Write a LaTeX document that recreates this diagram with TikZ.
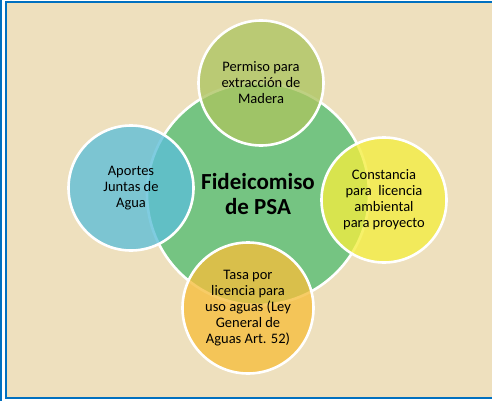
\documentclass[tikz,border=0pt]{standalone}
\usepackage{fontspec}
\setmainfont{Carlito}
\usepackage{xcolor}
\usepackage{tikz}
\usetikzlibrary{positioning}

\definecolor{framebl}{RGB}{0,112,192}
\definecolor{paper}{RGB}{238,224,190}
\definecolor{maingreen}{RGB}{96,192,120}
\definecolor{olive}{RGB}{172,196,96}
\definecolor{skyblue}{RGB}{92,190,216}
\definecolor{lemon}{RGB}{244,238,64}
\definecolor{amber}{RGB}{246,190,60}

\begin{document}
\begin{tikzpicture}[
  x=1pt,y=-1pt,
  font=\fontsize{14.5}{16}\selectfont
]
\tikzset{
    bubble/.style = {circle, draw=white, line width=2.6pt, align=center, inner sep=0pt, fill opacity=0.78, text opacity=1},
    hub/.style = {bubble, fill=maingreen, minimum size=222pt, font=\fontsize{23}{25}\selectfont\bfseries, fill opacity=0.85},
    satellite/.style = {bubble, minimum size=125pt},
}
\useasboundingbox (0,0) rectangle (492,401);
% background and frame
\fill[white] (0,0) rectangle (492,401);
\fill[paper] (6,2) rectangle (493,398);
\draw[framebl, line width=2pt] (1,0) -- (1,401);
\draw[framebl, line width=2.2pt] (493,2) -- (6,2) -- (6,398) -- (493,398);

\node[hub] (fide) at (258,194) {Fideicomiso\\de PSA};
\node[satellite, fill=olive] (madera) at (261,83) {Permiso para\\extracción de\\Madera};
\node[satellite, fill=skyblue] (juntas) at (131,188) {Aportes\\Juntas de\\Agua};
\node[satellite, fill=lemon] (licencia) at (384,200) {Constancia\\para\ \ licencia\\ambiental\\para proyecto};
\node[satellite, fill=amber, minimum size=131pt] (tasa) at (248,308) {Tasa por\\licencia para\\uso aguas (Ley\\General de\\Aguas Art. 52)};
\end{tikzpicture}
\end{document}
